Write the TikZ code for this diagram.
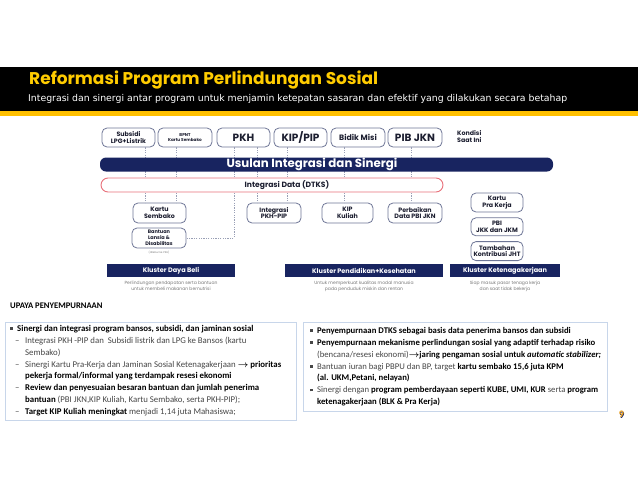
\documentclass[tikz,border=0pt]{standalone}
\usepackage{amsmath}
\usepackage{fontspec}
\setmainfont{Carlito}
\newfontfamily\popp{Poppins}
\newfontfamily\vsans{DejaVu Sans}
\usetikzlibrary{positioning}
\definecolor{navybar}{RGB}{24,36,96}
\definecolor{boxline}{RGB}{110,118,150}
\definecolor{boxtext}{RGB}{28,30,48}
\definecolor{dtksred}{RGB}{232,112,122}
\definecolor{titleyellow}{RGB}{255,204,0}
\definecolor{stripeyellow}{RGB}{255,192,0}
\definecolor{panelline}{RGB}{200,214,234}
\definecolor{bodygray}{RGB}{70,70,70}
\definecolor{descgray}{RGB}{120,120,120}
\definecolor{pagenum}{RGB}{240,160,20}
\newcommand{\bul}{\makebox[7pt][l]{\rule[1.4pt]{2.6pt}{2.8pt}}}
\newcommand{\hl}[1]{\textbf{\color{black}#1}}

\begin{document}
\begin{tikzpicture}[x=1pt,y=-1pt,
    progbox/.style={draw=boxline, line width=0.8pt, fill=white, rounded corners=5pt,
        align=center, inner sep=0pt, text=boxtext, font=\popp\bfseries\fontsize{6.3}{6.8}\selectfont},
    link/.style={draw=boxline!70, line width=0.5pt, dash pattern=on 1.2pt off 1.2pt},
    clusterbar/.style={fill=navybar, text=white, inner sep=0pt, minimum height=13,
        font=\popp\bfseries\fontsize{6.5}{7}\selectfont},
    clusterdesc/.style={text=descgray, align=center, inner sep=0pt,
        font=\popp\fontsize{4.5}{6}\selectfont},
    panel/.style={draw=panelline, line width=0.7pt, fill=white},
    listtext/.style={anchor=north west, align=left, inner sep=0pt, text=bodygray,
        font=\fontsize{8.8}{11.9}\selectfont}]
\useasboundingbox (0,0) rectangle (638,493);

% header banner
\fill[black] (0,67) rectangle (638,111);
\fill[stripeyellow] (0,111) rectangle (638,116);
\node[anchor=west, inner sep=0pt, text=titleyellow, font=\popp\bfseries\fontsize{17}{17}\selectfont] (title) at (29,80) {Reformasi Program Perlindungan Sosial};
\node[anchor=west, inner sep=0pt, text=white, font=\vsans\fontsize{9.35}{10}\selectfont] (subtitle) at (28,98.5) {Integrasi dan sinergi antar program untuk menjamin ketepatan sasaran dan efektif yang dilakukan secara betahap};

% current programmes
\node[progbox, minimum width=53, minimum height=19] (subsidi) at (128.5,137.5) {Subsidi\\LPG+Listrik};
\node[progbox, minimum width=54, minimum height=19, font=\popp\bfseries\fontsize{4.2}{5}\selectfont] (bpnt) at (185,137.5) {BPNT\\Kartu Sembako};
\node[progbox, minimum width=53, minimum height=19, font=\popp\bfseries\fontsize{10.5}{10}\selectfont] (pkh) at (243.5,137.5) {PKH};
\node[progbox, minimum width=53, minimum height=19, font=\popp\bfseries\fontsize{10.5}{10}\selectfont] (kippip) at (300.5,137.5) {KIP/PIP};
\node[progbox, minimum width=54, minimum height=19, font=\popp\bfseries\fontsize{7.8}{8}\selectfont] (bidik) at (358,137.5) {Bidik Misi};
\node[progbox, minimum width=54, minimum height=19, font=\popp\bfseries\fontsize{10.5}{10}\selectfont] (pibjkn) at (415,137.5) {PIB JKN};
\node[anchor=west, align=left, inner sep=0pt, text=boxtext, font=\popp\bfseries\fontsize{6.3}{7}\selectfont] (kondisi) at (457,136) {Kondisi\\Saat Ini};

% proposed programmes
\node[progbox, minimum width=53, minimum height=20] (sembako) at (159.5,213) {Kartu\\Sembako};
\node[progbox, minimum width=54, minimum height=20, font=\popp\bfseries\fontsize{5}{5.8}\selectfont] (lansia) at (159,238) {Bantuan\\Lansia \&\\Disabilitas};
\node[inner sep=0pt, text=descgray, font=\popp\fontsize{2.6}{3}\selectfont, below=2pt of lansia] (lansianote) {(dilebur ke PKH)};
\node[progbox, minimum width=54, minimum height=20] (pkhpip) at (274,213) {Integrasi\\PKH-PIP};
\node[progbox, minimum width=51, minimum height=20] (kipk) at (347.5,213) {KIP\\Kuliah};
\node[progbox, minimum width=54, minimum height=20] (pbi) at (415,213) {Perbaikan\\Data PBI JKN};
\node[progbox, minimum width=52, minimum height=19] (prakerja) at (497,202.5) {Kartu\\Pra Kerja};
\node[progbox, minimum width=52, minimum height=18, below=5pt of prakerja] (jkk) {PBI\\JKK dan JKM};
\node[progbox, minimum width=52, minimum height=19, below=5pt of jkk] (jht) {Tambahan\\Kontribusi JHT};

% dashed links
\draw[link] (145,0 |- subsidi.south) -- (145,0 |- sembako.north);
\draw[link] (176,0 |- bpnt.south) -- (176,0 |- sembako.north);
\draw[link] (234,0 |- pkh.south) |- (lansia.east);
\draw[link] (257,0 |- pkh.south) -- (257,0 |- pkhpip.north);
\draw[link] (287,0 |- kippip.south) -- (287,0 |- pkhpip.north);
\draw[link] (344,0 |- bidik.south) -- (344,0 |- kipk.north);
\draw[link] (411,0 |- pibjkn.south) -- (411,0 |- pbi.north);

% bars
\fill[navybar, rounded corners=6pt] (100,157.5) rectangle (553,171.5);
\node[text=white, inner sep=0pt, font=\popp\bfseries\fontsize{11.8}{12}\selectfont] (usulan) at (312,164.5) {Usulan Integrasi dan Sinergi};
\draw[dtksred, line width=0.9pt, fill=white, rounded corners=7pt] (101,178) rectangle (443,192);
\node[text=boxtext, inner sep=0pt, font=\popp\bfseries\fontsize{7.6}{8}\selectfont] (dtks) at (287,185) {Integrasi Data (DTKS)};

% clusters
\node[clusterbar, minimum width=128] (daya) at (171,270.5) {Kluster Daya Beli};
\node[clusterbar, minimum width=158] (didik) at (364,270.5) {Kluster Pendidikan+Kesehatan};
\node[clusterbar, minimum width=110] (kerja) at (505,270.5) {Kluster Ketenagakerjaan};
\node[clusterdesc, below=4pt of daya] (dayadesc) {Perlindungan pendapatan serta bantuan\\untuk membeli makanan bernutrisi};
\node[clusterdesc, below=4pt of didik] (didikdesc) {Untuk memperkuat kualitas modal manusia\\pada penduduk miskin dan rentan};
\node[clusterdesc, below=4pt of kerja] (kerjadesc) {Siap masuk pasar tenaga kerja\\dan saat tidak bekerja};

% improvements
\node[anchor=west, inner sep=0pt, font=\bfseries\fontsize{8.6}{9}\selectfont] (upaya) at (10,306) {UPAYA PENYEMPURNAAN};
\draw[panel] (5,322) rectangle (296,420);
\draw[panel] (303,322) rectangle (607,411);
\node[listtext] (leftlist) at (10,325) {%
\bul\hl{Sinergi dan integrasi program bansos, subsidi, dan jaminan sosial}\\
\hspace*{5pt}\makebox[10pt][l]{--}Integrasi PKH -PIP dan \ Subsidi listrik dan LPG ke Bansos (kartu\\
\hspace*{15pt}Sembako)\\
\hspace*{5pt}\makebox[10pt][l]{--}Sinergi Kartu Pra-Kerja dan Jaminan Sosial Ketenagakerjaan \hl{$\boldsymbol{\rightarrow}$ prioritas}\\
\hspace*{15pt}\hl{pekerja formal/informal yang terdampak resesi ekonomi}\\
\hspace*{5pt}\makebox[10pt][l]{--}\hl{Review dan penyesuaian besaran bantuan dan jumlah penerima}\\
\hspace*{15pt}\hl{bantuan} (PBI JKN,KIP Kuliah, Kartu Sembako, serta PKH-PIP);\\
\hspace*{5pt}\makebox[10pt][l]{--}\hl{Target KIP Kuliah meningkat} menjadi 1,14 juta Mahasiswa;};
\node[listtext, font=\fontsize{8.7}{11.9}\selectfont] (rightlist) at (310,327) {%
\bul\hl{Penyempurnaan DTKS sebagai basis data penerima bansos dan subsidi}\\
\bul\hl{Penyempurnaan mekanisme perlindungan sosial yang adaptif terhadap risiko}\\
\hspace*{7pt}(bencana/resesi ekonomi)\hl{$\boldsymbol{\rightarrow}$jaring pengaman sosial untuk \textit{automatic stabilizer;}}\\
\bul Bantuan iuran bagi PBPU dan BP, target \hl{kartu sembako 15,6 juta KPM}\\
\hspace*{7pt}\hl{(al. UKM,Petani, nelayan)}\\
\bul Sinergi dengan \hl{program pemberdayaan seperti KUBE, UMI, KUR} serta \hl{program}\\
\hspace*{7pt}\hl{ketenagakerjaan (BLK \& Pra Kerja)}};

% page number
\node[inner sep=0pt, text=navybar, font=\bfseries\fontsize{10}{10}\selectfont] (pageshadow) at (622,415) {9};
\node[inner sep=0pt, text=pagenum, font=\bfseries\fontsize{10}{10}\selectfont] (page) at (621.4,414.4) {9};
\end{tikzpicture}
\end{document}
